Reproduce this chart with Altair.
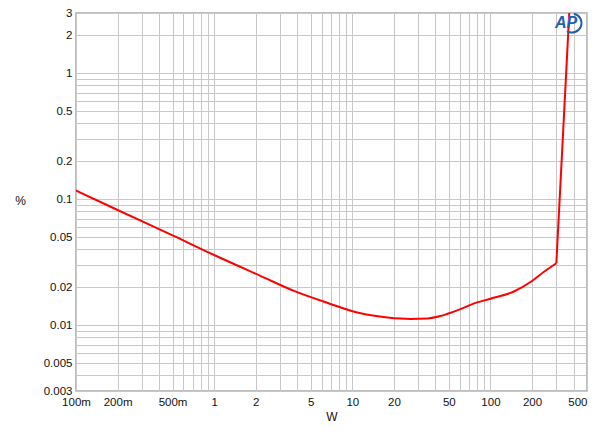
import altair as alt
import pandas as pd

# Data (THD+N % vs output power W)
watts = [0.1, 0.2, 0.5, 1, 2.18, 3.78, 6.65, 11.5, 18, 26.4, 35, 43.5, 49, 60.7, 75.4, 100, 146.6, 200, 243, 300]
thd = [0.117, 0.082, 0.0516, 0.036, 0.0245, 0.0187, 0.015, 0.0124, 0.0115, 0.0112, 0.0113, 0.0118, 0.0123, 0.0134,
       0.0148, 0.0162, 0.0184, 0.0224, 0.0264, 0.031]
# clipping rise after the knee
rise_watts = [300, 372]
rise_thd = [0.031, 3.0]

x_label_vals = [0.1, 0.2, 0.5, 1, 2, 5, 10, 20, 50, 100, 200, 500]
x_label_txt = ["100m", "200m", "500m", "1", "2", "5", "10", "20", "50", "100", "200", "500"]
y_label_vals = [0.003, 0.005, 0.01, 0.02, 0.05, 0.1, 0.2, 0.5, 1, 2, 3]
y_label_txt = ["0.003", "0.005", "0.01", "0.02", "0.05", "0.1", "0.2", "0.5", "1", "2", "3"]

x_grid = [round(k * 10 ** e, 6) for e in range(-1, 3) for k in range(1, 10) if 0.1 <= k * 10 ** e <= 500] + [500]
y_grid = [round(k * 10 ** e, 6) for e in range(-3, 1) for k in range(1, 10) if 0.003 <= k * 10 ** e <= 3] + [2, 3]


def label_expr(vals, txts):
    parts = [f"abs(datum.value - {v}) < {v * 1e-6} ? '{t}'" for v, t in zip(vals, txts)]
    return " : ".join(parts) + " : ''"


df = pd.DataFrame({"W": watts, "pct": thd})
df_rise = pd.DataFrame({"W": rise_watts, "pct": rise_thd})

font = "Liberation Sans"

x_enc = alt.X("W:Q",
              scale=alt.Scale(type="log", domain=[0.1, 500], nice=False),
              axis=alt.Axis(values=x_grid, labelExpr=label_expr(x_label_vals, x_label_txt),
                            title="W", ticks=False, domain=False, labelFlush=False,
                            labelAlign={"condition": {"test": "datum.value >= 499", "value": "right"}, "value": "center"},
                            labelPadding=5, titlePadding=4, grid=True))
y_enc = alt.Y("pct:Q",
              scale=alt.Scale(type="log", domain=[0.003, 3], nice=False),
              axis=alt.Axis(values=y_grid, labelExpr=label_expr(y_label_vals, y_label_txt),
                            title="%", titleAngle=0, titleAlign="center", titleBaseline="middle",
                            titleX=-56, titleY=187, ticks=False, domain=False, labelFlush=False,
                            labelPadding=4, grid=True))

line = alt.Chart(df).mark_line(color="#ff0000", strokeWidth=2, clip=True, interpolate="monotone").encode(
    x=x_enc, y=y_enc)
rise = alt.Chart(df_rise).mark_line(color="#ff0000", strokeWidth=2, clip=True).encode(
    x=alt.X("W:Q"), y=alt.Y("pct:Q"))

logo_df = pd.DataFrame({"t": ["AP"]})
logo_txt = alt.Chart(logo_df).mark_text(
    font=font, fontSize=16, fontStyle="italic", fontWeight="bold", color="#1f5fae"
).encode(x=alt.value(490), y=alt.value(10), text="t:N")
logo_arc = alt.Chart(logo_df).mark_arc(
    radius=10.5, radius2=8.5, theta=0.2, theta2=3.7, color="#1f5fae"
).encode(x=alt.value(496), y=alt.value(10))

chart = alt.layer(line, rise, logo_arc, logo_txt).properties(
    width=511, height=378,
    autosize=alt.AutoSizeParams(type="none"),
    padding={"left": 68, "top": 5, "right": 5, "bottom": 40},
).configure_view(
    stroke="#a8a8a8", strokeWidth=1.5
).configure_axis(
    gridColor="#c8c8c8", gridWidth=1, gridOpacity=1,
    labelFont=font, labelFontSize=11.5, labelColor="#111111",
    titleFont=font, titleFontSize=12, titleFontWeight="normal", titleColor="#111111",
)

chart.save("out.html", embed_options={"renderer": "svg", "actions": False})
